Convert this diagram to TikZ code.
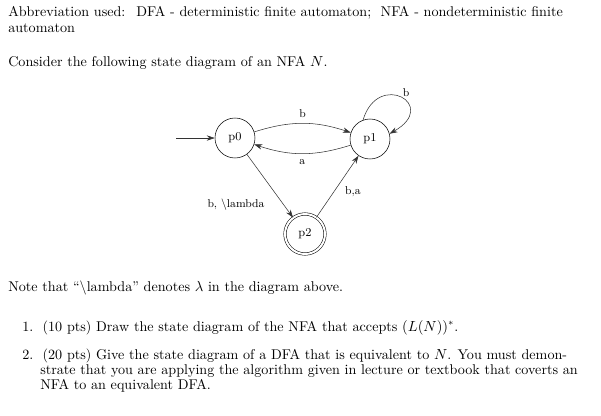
\documentclass[tikz,border=0pt]{standalone}
\usetikzlibrary{arrows.meta}
\begin{document}
\begin{tikzpicture}[x=0.75pt,y=-0.75pt,
  txt/.style={anchor=base west,inner sep=0pt,font=\fontsize{10.6}{12}\selectfont},
  st/.style={circle,draw,minimum size=30pt,inner sep=0pt,font=\fontsize{9}{10}\selectfont,line width=0.4pt},
  acc/.style={st,double,double distance=1.5pt},
  lab/.style={font=\fontsize{8.5}{10}\selectfont,inner sep=1pt},
  ed/.style={-{Stealth[length=6pt,width=4pt]},line width=0.4pt,draw=black!80}]
\useasboundingbox (0,0) rectangle (601,415);
\node[txt] (t1) at (8,16) {Abbreviation used: \ DFA - deterministic finite automaton; \ NFA - nondeterministic finite};
\node[txt] (t2) at (8,32) {automaton};
\node[txt] (t3) at (8,66) {Consider the following state diagram of an NFA $N$.};
\node[st] (p0) at (235,138) {p0};
\node[st] (p1) at (370,139) {p1};
\node[acc] (p2) at (305,234) {p2};
\coordinate (s) at (176,138);
\draw[ed] (s) -- (p0);
\draw[ed] (p0) to[bend left=18] node[lab,above=3pt] {b} (p1);
\draw[ed] (p1) to[bend left=18] node[lab,below=3pt] {a} (p0);
\draw[ed] (p1.110) .. controls (378,70) and (440,105) .. (p1.15);
\node[lab] (lb) at (406,93) {b};
\draw[ed] (p0) -- (p2);
\node[lab] (l1) at (236,205) {b, \textbackslash lambda};
\draw[ed] (p2) -- (p1);
\node[lab] (l2) at (353,192) {b,a};
\node[txt] (t4) at (8,291) {Note that ``\textbackslash lambda'' denotes $\lambda$ in the diagram above.};
\node[txt] (t5) at (22,331) {1.\ \ (10 pts) Draw the state diagram of the NFA that accepts $(L(N))^*$.};
\node[txt] (t6) at (22,359) {2.\ \ (20 pts) Give the state diagram of a DFA that is equivalent to $N$. You must demon-};
\node[txt] (t7) at (40,374) {strate that you are applying the algorithm given in lecture or textbook that coverts an};
\node[txt] (t8) at (40,389) {NFA to an equivalent DFA.};
\end{tikzpicture}
\end{document}
